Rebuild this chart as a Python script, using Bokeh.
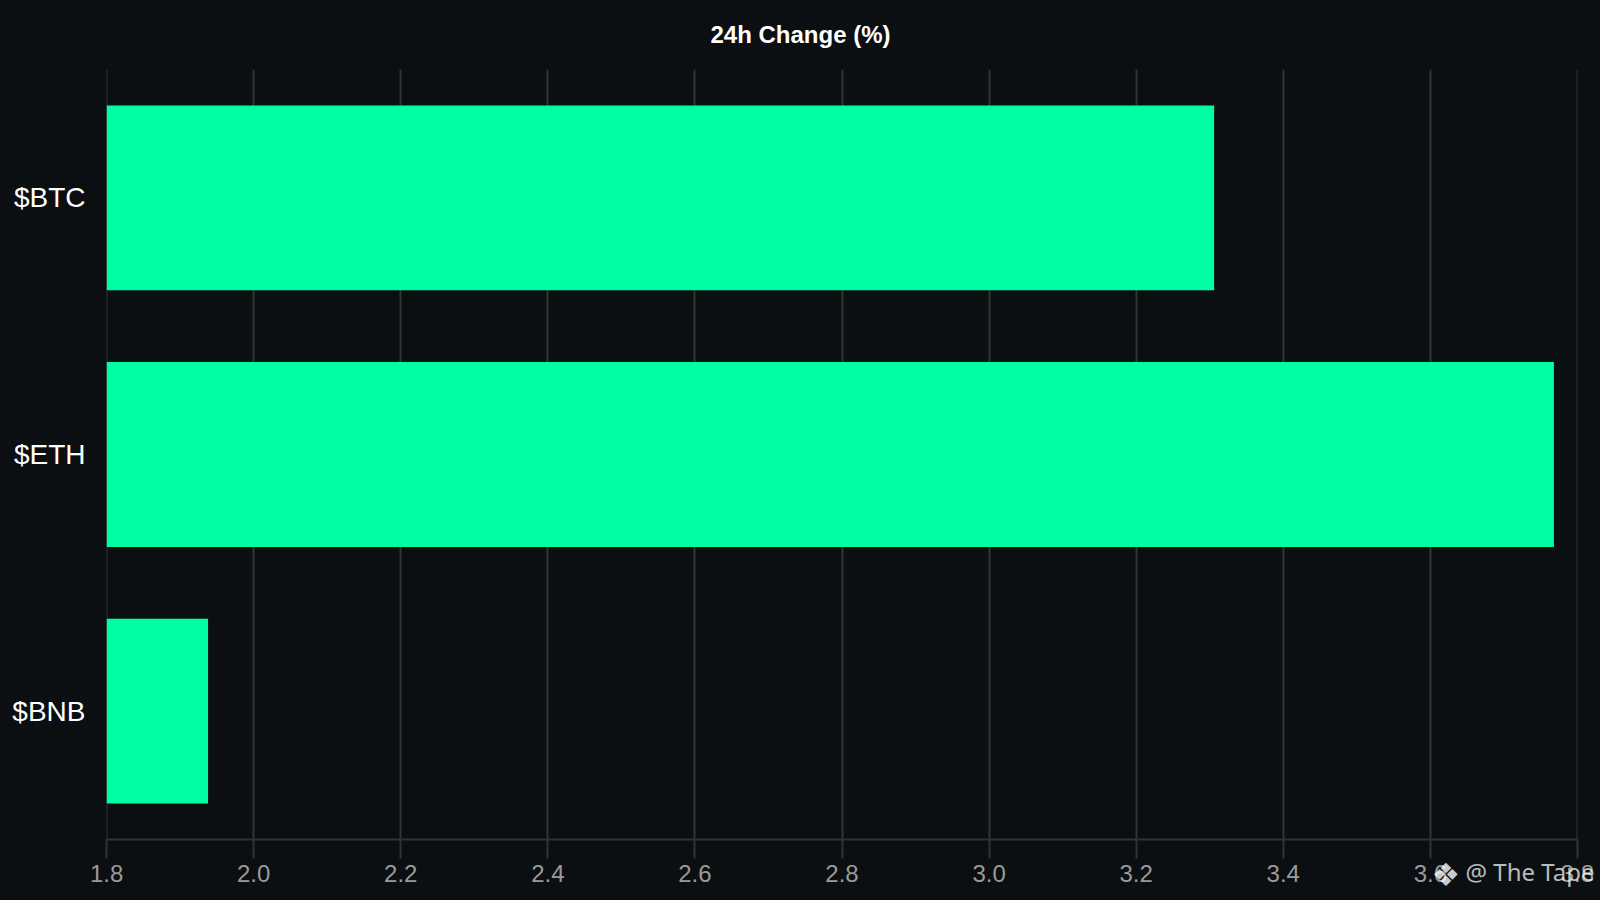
from bokeh.plotting import figure
from bokeh.models import FixedTicker, Title, NumeralTickFormatter
from bokeh.embed import file_html
from bokeh.resources import INLINE

assets = ["$BTC", "$ETH", "$BNB"]
changes = [3.306, 3.768, 1.938]
x_ticks = [1.8, 2.0, 2.2, 2.4, 2.6, 2.8, 3.0, 3.2, 3.4, 3.6, 3.8]
BASE = 1.8

BG = "#0b0f12"
GRID = "#333333"
BAR = "#00ffa3"
FRAME_LEFT, FRAME_BOTTOM = 106, 839

p = figure(width=1600, height=900, output_backend="svg", toolbar_location=None,
           y_range=list(reversed(assets)), x_range=(1.7999, 3.8001),
           background_fill_color=None, border_fill_color=None,
           min_border_left=FRAME_LEFT, min_border_right=23, min_border_top=68,
           min_border_bottom=900 - FRAME_BOTTOM)
p.styles = {"background-color": BG}
p.outline_line_color = None

p.hbar(y=assets, left=BASE, right=changes, height=0.72, color=BAR, line_color=None)

p.ygrid.grid_line_color = None
p.xgrid.grid_line_color = GRID
p.xgrid.grid_line_width = 2
p.xgrid.ticker = FixedTicker(ticks=x_ticks)

xa = p.xaxis[0]
xa.ticker = FixedTicker(ticks=x_ticks)
xa.formatter = NumeralTickFormatter(format="0.0")
xa.axis_line_color = GRID
xa.axis_line_width = 2
xa.major_tick_line_color = GRID
xa.major_tick_line_width = 2
xa.major_tick_out = 19
xa.major_tick_in = 0
xa.minor_tick_line_color = None
xa.major_label_text_font = "Liberation Sans"
xa.major_label_text_font_size = "24px"
xa.major_label_text_color = "#9a9a9a"
xa.major_label_standoff = 6

ya = p.yaxis[0]
ya.axis_line_color = None
ya.major_tick_line_color = None
ya.minor_tick_line_color = None
ya.major_label_text_font = "Liberation Sans"
ya.major_label_text_font_size = "28px"
ya.major_label_text_color = "#ffffff"
ya.major_label_standoff = 15

title = Title(text="24h Change (%)", align="left", offset=604, standoff=40,
              vertical_align="top", text_baseline="middle",
              text_color="#ffffff", text_font="Liberation Sans",
              text_font_size="24px", text_font_style="bold")
p.add_layout(title, "above")

# watermark: annotations outside a side panel are clipped to the frame, so it sits in the bottom panel
wm = Title(text="@ The Tape", align="left", offset=1465 - FRAME_LEFT, standoff=-60,
           vertical_align="top", text_baseline="middle",
           text_color="#ffffff", text_alpha=0.72, text_font="Noto Sans",
           text_font_size="24px", text_font_style="normal")
p.add_layout(wm, "below")

icon = Title(text="\u2756", align="left", offset=1431 - FRAME_LEFT, standoff=-58,
             vertical_align="top", text_baseline="middle",
             text_color="#ffffff", text_alpha=0.8, text_font="DejaVu Sans",
             text_font_size="32px", text_font_style="normal")
p.add_layout(icon, "below")

open("out.html", "w").write(file_html(p, INLINE))
